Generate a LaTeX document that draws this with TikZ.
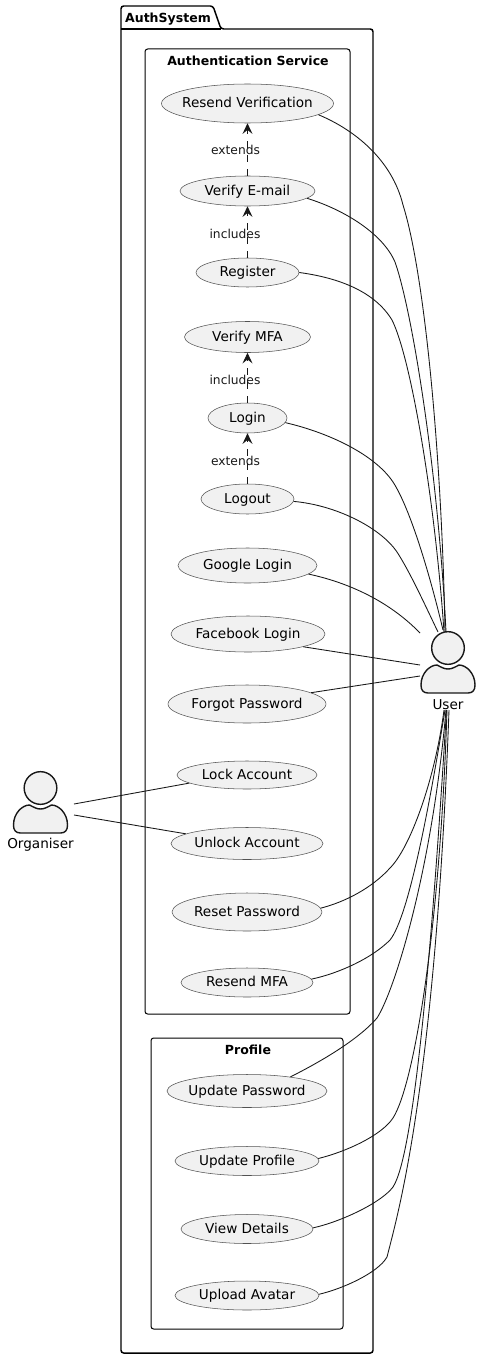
\documentclass[tikz,border=0pt]{standalone}
\usepackage{fontspec}
\setmainfont{DejaVu Sans}
\usetikzlibrary{shapes.geometric,arrows.meta}
\definecolor{ucfill}{HTML}{F1F1F1}
\definecolor{ink}{HTML}{181818}
\newcommand{\uct}[1]{\makebox[0pt]{#1}}
\tikzset{
  usecase/.style 2 args={ellipse,draw=ink!75,line width=0.4pt,fill=ucfill,inner sep=0pt,
    minimum width=#1*0.75pt,minimum height=#2*0.75pt,text height=9pt,text depth=2.3pt,
    font=\fontsize{10.2}{12}\selectfont},
  assoc/.style={draw=ink,line width=0.65pt},
  depend/.style={draw=ink,line width=0.65pt,dash pattern=on 5.25pt off 5.25pt,
    -{Stealth[length=8pt,width=7.5pt,inset=3pt]}},
  deplabel/.style={inner sep=0pt,font=\fontsize{9.2}{11}\selectfont,text=ink},
  frametitle/.style={inner sep=0pt,font=\fontsize{9.4}{12}\selectfont\bfseries},
  actortext/.style={inner sep=0pt,font=\fontsize{10.2}{12}\selectfont,text=black},
  actorpart/.style={draw=ink,line width=1.05pt,fill=ucfill},
  actorhead/.style={circle,actorpart,inner sep=0pt,minimum size=24.5pt},
  outerframe/.style={draw=black,line width=1.1pt,rounded corners=2pt},
  innerframe/.style={draw=black,line width=0.75pt,rounded corners=2pt},
}
\newcommand{\actorbody}[2]{%
  \path[actorpart,shift={(#1,#2)}] (-20,45) -- (20,45)
    .. controls (25,45) and (27,42) .. (27,37)
    .. controls (27,25) and (18,17) .. (11,17)
    .. controls (7,19) and (4,21) .. (0,21)
    .. controls (-4,21) and (-7,19) .. (-11,17)
    .. controls (-18,17) and (-27,25) .. (-27,37)
    .. controls (-27,42) and (-25,45) .. (-20,45) -- cycle;}
\begin{document}
\begin{tikzpicture}[x=0.75pt,y=-0.75pt]
\useasboundingbox (0,0) rectangle (481,1359);
% frames
\path[outerframe] (121,29) -- (121,6) -- (213,6) -- (221,29) -- (373,29) -- (373,1353) -- (121,1353) -- cycle;
\path[draw=black,line width=1.1pt] (121,29) -- (221,29);
\node[frametitle,anchor=mid] (authsys) at (168,18.5) {AuthSystem};
\path[innerframe] (145,49) rectangle (350,1014);
\node[frametitle,anchor=mid] (authsvc) at (248,61.5) {Authentication Service};
\path[innerframe] (151,1038) rectangle (343,1329);
\node[frametitle,anchor=mid] (profile) at (248,1050.5) {Profile};
% use cases
\node[usecase={172}{39}] (rv) at (247.5,103.5) {\uct{Resend Verification}};
\node[usecase={135}{30}] (ve) at (247.5,191) {\uct{Verify E-mail}};
\node[usecase={103}{29}] (rg) at (247.5,272.5) {\uct{Register}};
\node[usecase={126}{31}] (vm) at (247.5,337) {\uct{Verify MFA}};
\node[usecase={79}{30}] (lo) at (247.5,418) {\uct{Login}};
\node[usecase={93}{30}] (lg) at (247.5,499) {\uct{Logout}};
\node[usecase={139}{35}] (gl) at (247.5,565.5) {\uct{Google Login}};
\node[usecase={154}{36}] (fb) at (248,634) {\uct{Facebook Login}};
\node[usecase={158}{38}] (fp) at (247,704) {\uct{Forgot Password}};
\node[usecase={140}{28}] (la) at (247,775) {\uct{Lock Account}};
\node[usecase={152}{32}] (ua) at (247,843.5) {\uct{Unlock Account}};
\node[usecase={150}{38}] (rp) at (247,912) {\uct{Reset Password}};
\node[usecase={132}{29}] (rm) at (247,982.5) {\uct{Resend MFA}};
\node[usecase={160}{33}] (up) at (247,1091) {\uct{Update Password}};
\node[usecase={144}{29}] (pf) at (247,1161) {\uct{Update Profile}};
\node[usecase={132}{29}] (vd) at (247,1229) {\uct{View Details}};
\node[usecase={144}{29}] (av) at (247,1295.5) {\uct{Upload Avatar}};
% actors
\actorbody{448}{648}
\node[actorhead] (user) at (448,648) {};
\node[actortext,anchor=mid] (userlabel) at (448,705.5) {User};
\actorbody{40.5}{788}
\node[actorhead] (org) at (40.5,788) {};
\node[actortext,anchor=mid] (orglabel) at (40.5,844.5) {Organiser};
% connector ends at the actors
\coordinate (u1) at (445,632);
\coordinate (u2) at (446,632);
\coordinate (u3) at (444,632);
\coordinate (u4) at (443,630);
\coordinate (u5) at (438,632);
\coordinate (u6) at (420,633);
\coordinate (u7) at (420,665);
\coordinate (u8) at (420,676);
\coordinate (d1) at (444,710);
\coordinate (d2) at (445,710);
\coordinate (d3) at (446,710);
\coordinate (d4) at (447,710);
\coordinate (d5) at (446.5,710);
\coordinate (d6) at (449,710);
\coordinate (o1) at (74,804);
\coordinate (o2) at (74,815);
% dependencies
\draw[depend] (ve.north) -- (rv.south);
\draw[depend] (rg.north) -- (ve.south);
\draw[depend] (lo.north) -- (vm.south);
\draw[depend] (lg.north) -- (lo.south);
\node[deplabel,anchor=mid] (l1) at (235.5,150.5) {extends};
\node[deplabel,anchor=mid] (l2) at (235,234.5) {includes};
\node[deplabel,anchor=mid] (l3) at (235,380.5) {includes};
\node[deplabel,anchor=mid] (l4) at (235.5,461.5) {extends};
% associations
\draw[assoc] (rv.-9.5) .. controls (355,130) and (392,160) .. (403,205) .. controls (425,275) and (442,460) .. (u1);
\draw[assoc] (ve.-7.9) .. controls (345,210) and (383,234) .. (395,262) .. controls (412,310) and (438,470) .. (u2);
\draw[assoc] (rg.-0.6) .. controls (340,278) and (375,292) .. (392,320) .. controls (411,358) and (435,500) .. (u3);
\draw[assoc] (lo.-7.5) .. controls (330,433) and (375,455) .. (393,482) .. controls (410,508) and (430,575) .. (u4);
\draw[assoc] (lg.-3.8) .. controls (335,505) and (380,527) .. (397,552) .. controls (410,572) and (425,605) .. (u5);
\draw[assoc] (gl.-8.4) .. controls (350,583) and (390,602) .. (u6);
\draw[assoc] (fb.-13.8) -- (u7);
\draw[assoc] (fp.10) -- (u8);
\draw[assoc] (o1) -- (la.188.5);
\draw[assoc] (o2) -- (ua.171.5);
\draw[assoc] (rp.3.9) .. controls (345,902) and (372,888) .. (390,868) .. controls (410,848) and (435,780) .. (d1);
\draw[assoc] (rm.3.5) .. controls (340,973) and (372,958) .. (390,940) .. controls (410,915) and (432,790) .. (d2);
\draw[assoc] (up.18) .. controls (320,1062) and (358,1040) .. (377,1018) .. controls (395,990) and (432,870) .. (d3);
\draw[assoc] (pf.2.4) .. controls (345,1152) and (381,1136) .. (393,1118) .. controls (414,1085) and (440,930) .. (d4);
\draw[assoc] (vd.1.7) .. controls (340,1222) and (381,1203) .. (393,1187) .. controls (414,1155) and (432,950) .. (d5);
\draw[assoc] (av.1.6) .. controls (342,1289) and (378,1273) .. (387,1257) .. controls (397,1217) and (435,1090) .. (d6);
\end{tikzpicture}
\end{document}
